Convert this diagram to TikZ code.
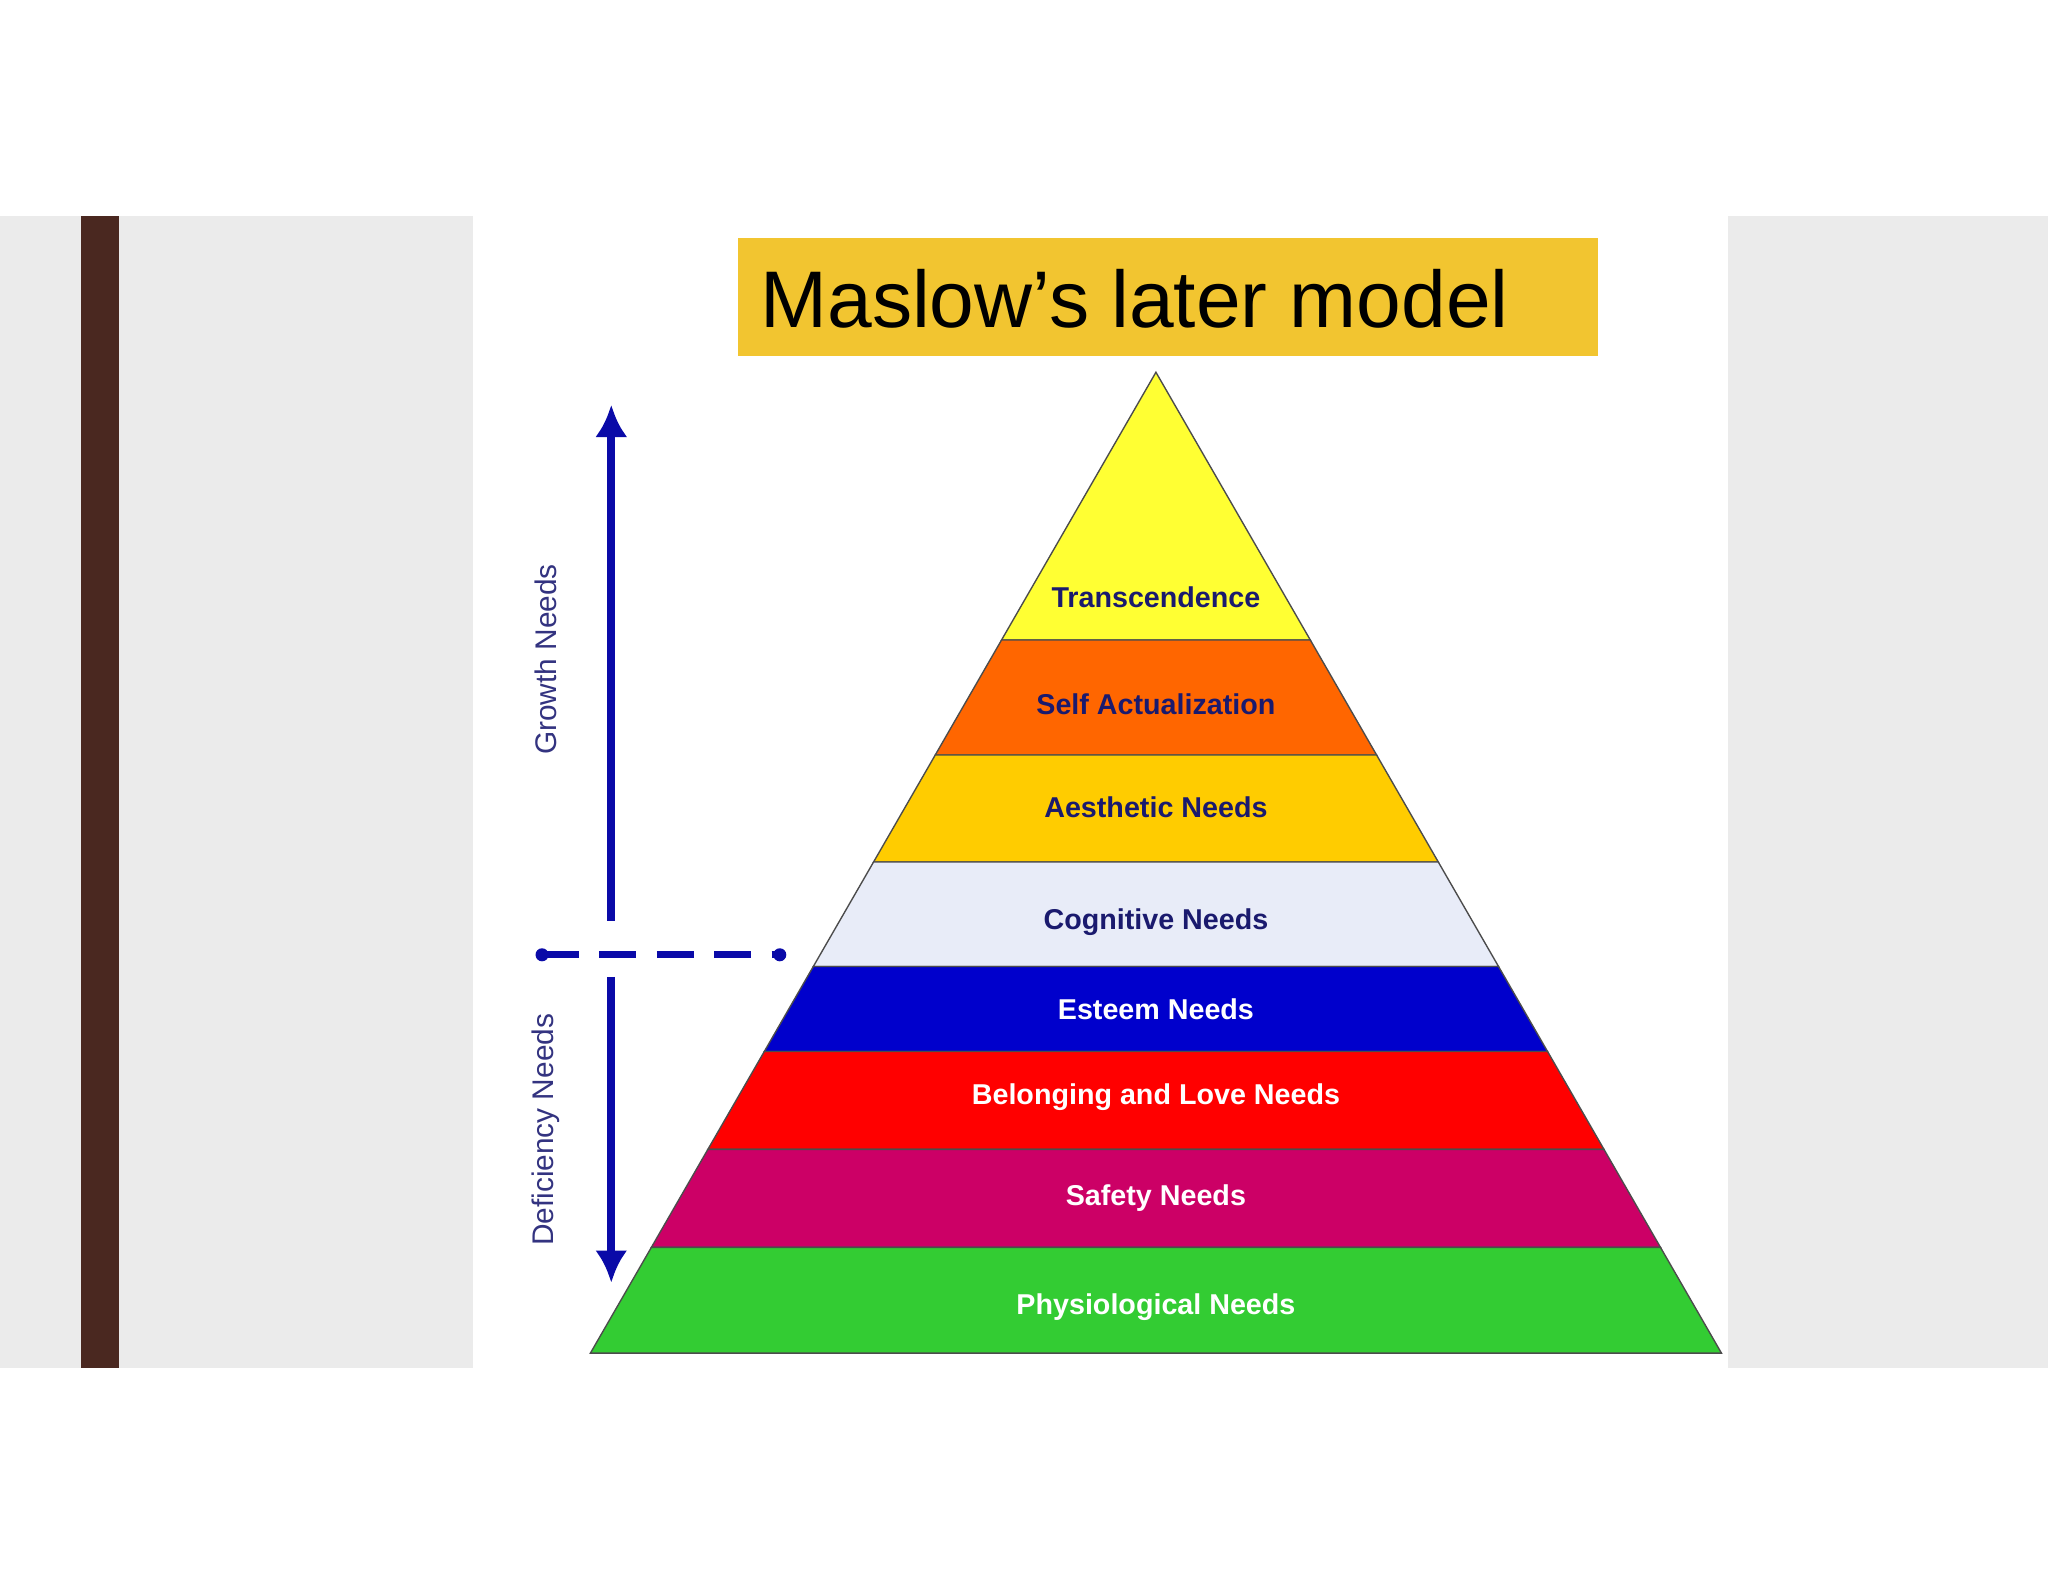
\documentclass[tikz,border=0pt]{standalone}
\usepackage{fontspec}
\usetikzlibrary{arrows.meta}
\setmainfont{Liberation Sans}
\definecolor{bandgray}{HTML}{EBEBEB}
\definecolor{brownbar}{HTML}{4A2820}
\definecolor{titlegold}{HTML}{F2C530}
\definecolor{navy}{HTML}{1A1A6E}
\definecolor{arrowblue}{HTML}{0A0AA8}
\definecolor{labblue}{HTML}{333380}
\definecolor{cTr}{HTML}{FFFF33}
\definecolor{cSa}{HTML}{FF6600}
\definecolor{cAe}{HTML}{FFCC00}
\definecolor{cCo}{HTML}{E8ECF8}
\definecolor{cEs}{HTML}{0000CC}
\definecolor{cBe}{HTML}{FF0000}
\definecolor{cSf}{HTML}{CC0066}
\definecolor{cPh}{HTML}{33CC33}
\newcommand{\pyrlayer}[3]{%
  \pgfmathsetmacro{\xa}{(#1-285)*0.57656}%
  \pgfmathsetmacro{\xb}{(#2-285)*0.57656}%
  \filldraw[fill=#3,draw=black!70,line width=0.6pt] (885-\xa,#1) -- (885+\xa,#1) -- (885+\xb,#2) -- (885-\xb,#2) -- cycle;}
\begin{document}
\begin{tikzpicture}[x=0.02cm,y=-0.02cm,
  lab/.style={font=\bfseries\fontsize{12.5pt}{14pt}\selectfont},
  side/.style={font=\fontsize{13pt}{15pt}\selectfont,text=labblue,rotate=90},
  arr/.style={draw=arrowblue,line width=3.5pt,-{Latex[length=14pt,width=14pt]}}]
\useasboundingbox (0,0) rectangle (1568,1210);
\fill[white] (0,0) rectangle (1568,1210);
\fill[bandgray] (0,165) rectangle (362,1047);
\fill[bandgray] (1323,165) rectangle (1568,1047);
\fill[brownbar] (62,165) rectangle (91,1047);
\node[fill=titlegold,minimum width=658*0.02cm,minimum height=90*0.02cm,anchor=north west,inner sep=0pt] (title) at (565,182) {};
\node[anchor=west,font=\fontsize{35pt}{40pt}\selectfont] at (576,229) {Maslow’s later model};
% pyramid
\filldraw[fill=cTr,draw=black!70,line width=0.6pt] (885,285) -- (1003.2,490) -- (766.8,490) -- cycle;
\pyrlayer{490}{578}{cSa}
\pyrlayer{578}{660}{cAe}
\pyrlayer{660}{740}{cCo}
\pyrlayer{740}{805}{cEs}
\pyrlayer{805}{880}{cBe}
\pyrlayer{880}{955}{cSf}
\pyrlayer{955}{1036}{cPh}
\node[lab,text=navy] (tr) at (885,457) {Transcendence};
\node[lab,text=navy] (sa) at (885,539) {Self Actualization};
\node[lab,text=navy] (ae) at (885,618) {Aesthetic Needs};
\node[lab,text=navy] (co) at (885,706) {Cognitive Needs};
\node[lab,text=white] (es) at (885,773) {Esteem Needs};
\node[lab,text=white] (be) at (885,840) {Belonging and Love Needs};
\node[lab,text=white] (sf) at (885,917) {Safety Needs};
\node[lab,text=white] (ph) at (885,1001) {Physiological Needs};
% arrows
\coordinate (gb) at (468,705);
\coordinate (gt) at (468,310);
\coordinate (db) at (468,748);
\coordinate (dt) at (468,982);
\draw[arr] (gb) -- (gt);
\draw[arr] (db) -- (dt);
\coordinate (dl) at (415,731);
\coordinate (dr) at (597,731);
\draw[arrowblue,line width=3pt,dash pattern=on 16pt off 9pt] (dl) -- (dr);
\fill[arrowblue] (dl) circle (5);
\fill[arrowblue] (dr) circle (5);
\node[side] (gn) at (418,505) {Growth Needs};
\node[side] (dn) at (418,865) {Deficiency Needs};
\end{tikzpicture}
\end{document}
